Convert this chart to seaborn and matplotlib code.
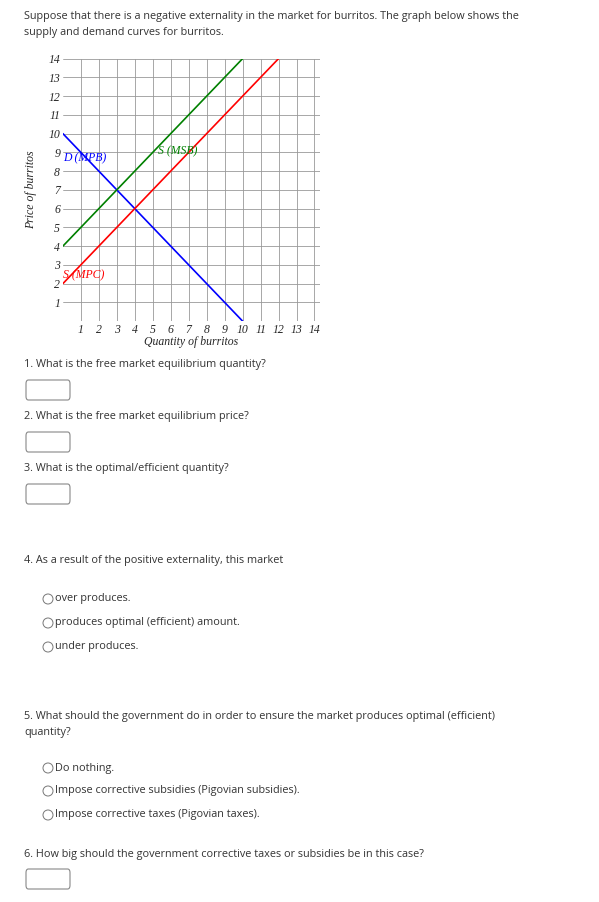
import matplotlib
matplotlib.use("Agg")
import matplotlib.pyplot as plt
import seaborn as sns
import numpy as np
import pandas as pd
from matplotlib.patches import FancyBboxPatch, Ellipse

quantity = [0, 1, 2, 3, 4, 5, 6, 7, 8, 9, 10, 11, 12]
demand_mpb = [10, 9, 8, 7, 6, 5, 4, 3, 2, 1, 0, None, None]
supply_mpc = [2, 3, 4, 5, 6, 7, 8, 9, 10, 11, 12, 13, 14]
supply_msb = [4, 5, 6, 7, 8, 9, 10, 11, 12, 13, 14, None, None]
ticks = list(range(1, 15))

sns.set_theme(style="white")
plt.rcParams['font.family'] = ['Open Sans', 'DejaVu Sans']

fig = plt.figure(figsize=(5.99, 9.02), dpi=100)
ax = fig.add_axes([0.105, 0.644, 0.429, 0.291])
df = pd.DataFrame({"Q": quantity, "D": demand_mpb, "MPC": supply_mpc, "MSB": supply_msb})
sns.lineplot(data=df, x="Q", y="D", color="blue", lw=1.2, ax=ax)
sns.lineplot(data=df, x="Q", y="MPC", color="red", lw=1.2, ax=ax)
sns.lineplot(data=df, x="Q", y="MSB", color="green", lw=1.2, ax=ax)
ax.set_xlim(0, 14.3)
ax.set_ylim(0, 14)
ax.set_xticks(ticks)
ax.set_yticks(ticks)
ax.grid(True, color="#999999", lw=0.6)
for s in ax.spines.values():
    s.set_visible(False)
serif = dict(family="Liberation Serif", style="italic", size=8.5)
ax.set_xticklabels([str(t) for t in ticks], fontdict=serif)
ax.set_yticklabels([str(t) for t in ticks], fontdict=serif)
ax.tick_params(length=0, pad=2)
ax.set_xlabel("Quantity of burritos", fontdict=serif, labelpad=0)
ax.set_ylabel("Price of burritos", fontdict=serif, labelpad=8)
ax.text(0, 8.5, "D (MPB)", color="blue", fontdict=serif)
ax.text(5.3, 8.9, "S (MSB)", color="green", fontdict=serif)
ax.text(0, 2.3, "S (MPC)", color="red", fontdict=serif)

W, H = 599, 902
def t(x, y, s):
    fig.text(x / W, 1 - y / H, s, fontsize=7.8, va="center", color="#333333")
def box(x, y):
    fig.patches.append(FancyBboxPatch((x / W, 1 - (y + 10) / H), 44 / W, 20 / H,
        boxstyle="round,pad=0,rounding_size=0.004", transform=fig.transFigure,
        fill=False, ec="#888888", lw=0.8))
def radio(x, y):
    fig.patches.append(Ellipse((x / W, 1 - y / H), 10 / W, 10 / H, transform=fig.transFigure,
        fill=False, ec="#777777", lw=0.7))

t(24, 16, "Suppose that there is a negative externality in the market for burritos. The graph below shows the")
t(24, 32, "supply and demand curves for burritos.")
t(24, 365, "1. What is the free market equilibrium quantity?")
box(26, 390)
t(24, 417, "2. What is the free market equilibrium price?")
box(26, 442)
t(24, 469, "3. What is the optimal/efficient quantity?")
box(26, 494)
t(24, 560, "4. As a result of the positive externality, this market")
for y, s in [(599, "over produces."), (623, "produces optimal (efficient) amount."), (647, "under produces.")]:
    radio(48, y); t(55, y, s)
t(24, 716, "5. What should the government do in order to ensure the market produces optimal (efficient)")
t(24, 732, "quantity?")
for y, s in [(768, "Do nothing."), (791, "Impose corrective subsidies (Pigovian subsidies)."), (815, "Impose corrective taxes (Pigovian taxes).")]:
    radio(48, y); t(55, y, s)
t(24, 854, "6. How big should the government corrective taxes or subsidies be in this case?")
box(26, 879)

fig.savefig("out.png", dpi=100)
